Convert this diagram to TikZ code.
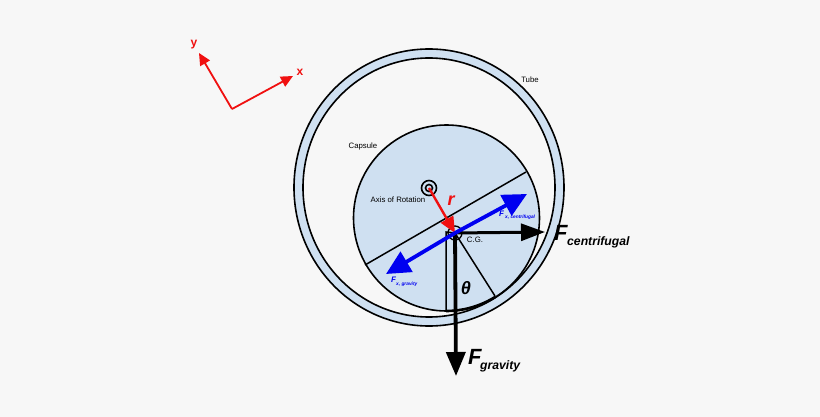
\documentclass[tikz,border=0pt]{standalone}
\usepackage{fontspec}
\setmainfont{Liberation Sans}
\usepackage{xcolor}
\usetikzlibrary{arrows.meta}
\definecolor{capsulefill}{HTML}{CFE0F1}
\definecolor{pagefill}{HTML}{F7F7F7}
\definecolor{forceblue}{HTML}{0000F0}
\definecolor{axisred}{HTML}{F01010}
\begin{document}
\begin{tikzpicture}[
    x=1pt, y=-1pt,
    label/.style={inner sep=0pt, font=\fontsize{7.8}{9}\selectfont, text=black},
    redarrow/.style={-{Triangle[length=12pt,width=11pt]}, line width=1.8pt, axisred},
    bluearrow/.style={-{Triangle[length=24pt,width=23pt]}, line width=3.8pt, forceblue},
    thin line/.style={line width=1.5pt, black},
    redtext/.style={inner sep=0pt, text=axisred, font=\fontsize{12}{13}\selectfont\bfseries},
    bigf/.style={inner sep=0pt, anchor=west, font=\fontsize{22}{23}\selectfont\bfseries\itshape},
    bigsub/.style={inner sep=0pt, anchor=west, font=\fontsize{12.2}{13}\selectfont\bfseries\itshape},
    smallf/.style={inner sep=0pt, anchor=west, text=forceblue, font=\fontsize{8}{9}\selectfont\bfseries\itshape},
    smallsub/.style={inner sep=0pt, anchor=west, text=forceblue, font=\fontsize{4.8}{5}\selectfont\bfseries\itshape}
]
\useasboundingbox[fill=pagefill] (0,0) rectangle (820,417);
% Tube
\fill[capsulefill, draw=black, line width=1.6pt] (429,187.5) ellipse [x radius=135, y radius=138.5];
\fill[pagefill, draw=black, line width=1.6pt] (429,187.5) ellipse [x radius=126, y radius=129.5];
% Capsule
\draw[fill=capsulefill, line width=1.6pt] (446.5,218) circle [radius=93];
% Named points
\coordinate (origin) at (232,109);
\coordinate (xend) at (293,76);
\coordinate (yend) at (199,53);
\coordinate (axis) at (429,188);
\coordinate (cg) at (455,233);
\coordinate (chordl) at (365,265);
\coordinate (chordr) at (526,172);
\coordinate (fright) at (545,232);
\coordinate (fdown) at (456,376);
\coordinate (blueu) at (527,194);
\coordinate (blued) at (386,274);
\coordinate (foot) at (446,311);
\coordinate (corner) at (446,232);
\coordinate (rim) at (495,296);
% Axes
\draw[redarrow] (origin) -- (xend);
\draw[redarrow] (origin) -- (yend);
\node[redtext] (xlabel) at (300,72) {x};
\node[redtext] (ylabel) at (194,45) {y};
% Chord and angle lines
\draw[thin line] (chordl) -- (chordr);
\draw[thin line] (foot) -- (corner) -- (cg);
\draw[thin line] (cg) -- (rim);
\draw[line width=2.6pt] (foot) arc [start angle=90, end angle=58, radius=93];
% Centre marks
\draw[line width=1.3pt] (cg) circle [radius=7];
\draw[line width=1.6pt] (axis) circle [radius=7.5];
\draw[line width=1.6pt] (axis) circle [radius=3.5];
% Forces
\draw[-{Triangle[length=24pt,width=17pt]}, line width=3pt] (cg) -- (fright);
\draw[-{Triangle[length=24pt,width=19pt]}, line width=3.8pt] (cg) -- (fdown);
\draw[-{Triangle[length=16pt,width=14pt]}, line width=2.4pt, axisred] (axis) -- (cg);
\draw[bluearrow] (cg) -- (blueu);
\draw[bluearrow] (cg) -- (blued);
% Labels
\node[label] (tube) at (530,80) {Tube};
\node[label] (capsule) at (363,146) {Capsule};
\node[label] (axislabel) at (398,200) {Axis of Rotation};
\node[label] (cglabel) at (475,240) {C.G.};
\node[inner sep=0pt, text=axisred, font=\fontsize{18}{19}\selectfont\bfseries\itshape] (rlabel) at (451,201) {r};
\node[inner sep=0pt, font=\fontsize{18}{19}\selectfont\bfseries\itshape] (theta) at (466,288) {θ};
\node[bigf] (fcent) at (554,233) {F};
\node[bigsub] (fcentsub) at (567,242) {centrifugal};
\node[bigf] (fgrav) at (468,357) {F};
\node[bigsub] (fgravsub) at (480,366) {gravity};
\node[smallf] (fxc) at (499,214) {F};
\node[smallsub] (fxcsub) at (505,217) {x, centrifugal};
\node[smallf] (fxg) at (391,280) {F};
\node[smallsub] (fxgsub) at (396,284) {x, gravity};
\end{tikzpicture}
\end{document}
